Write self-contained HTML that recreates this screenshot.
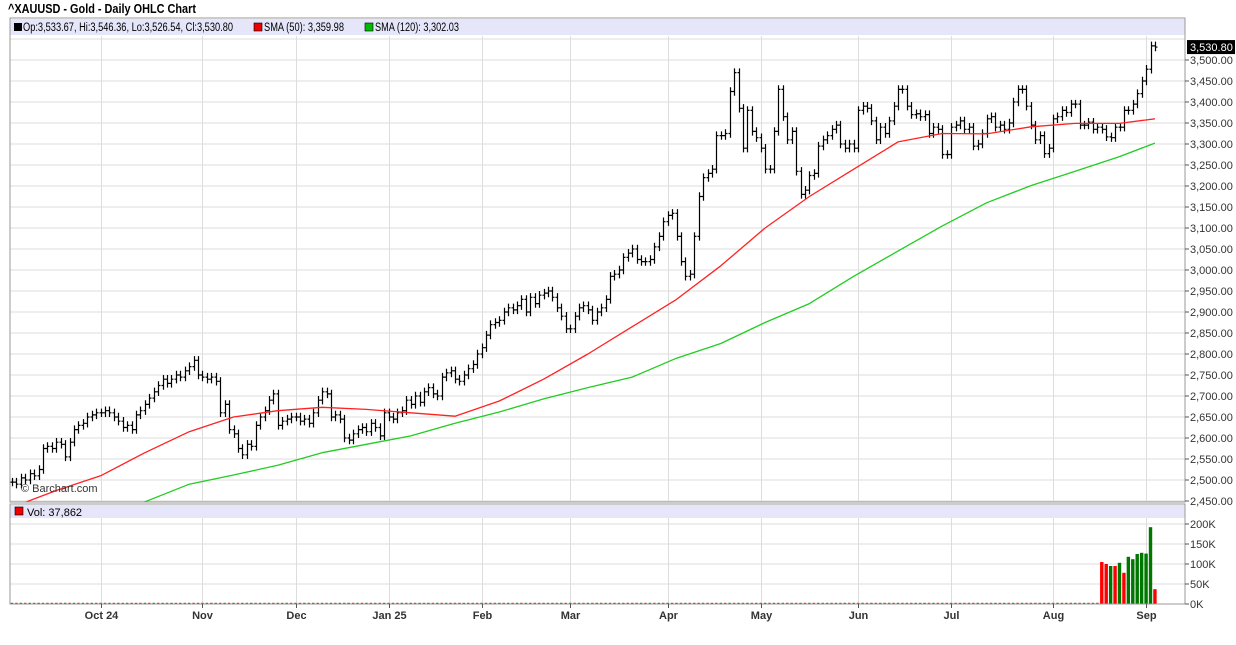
<!DOCTYPE html>
<html><head><meta charset="utf-8">
<style>
html,body{margin:0;padding:0;background:#fff;}
svg{display:block;font-family:"Liberation Sans",sans-serif;}
</style></head>
<body>
<svg id="chart" width="1236" height="645" viewBox="0 0 1236 645" xmlns="http://www.w3.org/2000/svg">
<defs>
<clipPath id="pclip"><rect x="10" y="36" width="1175" height="466"/></clipPath>
<clipPath id="vclip"><rect x="10" y="519" width="1175" height="85"/></clipPath>
</defs>
<text x="8" y="13" font-size="13" font-weight="bold" fill="#000" textLength="188" lengthAdjust="spacingAndGlyphs">^XAUUSD - Gold - Daily OHLC Chart</text>
<g id="grid"></g>
<rect x="10" y="19" width="1175" height="16" fill="#e6e6fa"/>
<rect x="10" y="505" width="1175" height="13" fill="#e6e6fa"/>
<g font-size="11.5">
<rect x="14" y="23" width="8" height="8" fill="#000"/>
<text x="23" y="31" textLength="210" lengthAdjust="spacingAndGlyphs">Op:3,533.67, Hi:3,546.36, Lo:3,526.54, Cl:3,530.80</text>
<rect x="254" y="23" width="8" height="8" fill="#e00" stroke="#000" stroke-width="0.6"/>
<text x="264" y="31" textLength="80" lengthAdjust="spacingAndGlyphs">SMA (50): 3,359.98</text>
<rect x="365" y="23" width="8" height="8" fill="#0b0" stroke="#000" stroke-width="0.6"/>
<text x="375" y="31" textLength="84" lengthAdjust="spacingAndGlyphs">SMA (120): 3,302.03</text>
</g>
<g font-size="11">
<rect x="15" y="507" width="8" height="8" fill="#e00" stroke="#000" stroke-width="0.6"/>
<text x="27" y="516">Vol: 37,862</text>
</g>
<g id="series"></g>
<text x="21" y="492" font-size="11" fill="#333">© Barchart.com</text>
<rect x="10" y="18" width="1175" height="484" fill="none" stroke="#999" stroke-width="1"/>
<rect x="10" y="504" width="1175" height="100" fill="none" stroke="#999" stroke-width="1"/>
<g id="axes"></g>
</svg>
<script>
const closes = [
2495,2490,2505,2500,2515,2510,2525,2575,2580,2575,2590,2585,2555,2590,2620,2630,2635,2650,2655,2660,
2660,2665,2660,2650,2640,2625,2630,2620,2655,2665,2680,2695,2710,2725,2740,2730,2740,2750,2745,2760,2770,2785,2750,
2745,2740,2745,2735,2660,2680,2620,2610,2575,2560,2585,2580,2630,2650,2665,2690,2705,2630,2640,2645,2650,
2650,2640,2645,2635,2660,2690,2710,2705,2650,2655,2645,2600,2595,2610,2620,2625,2615,2635,2625,2605,
2660,2650,2645,2660,2665,2690,2680,2700,2685,2710,2720,2705,2700,2745,2755,2760,2740,2735,2750,2765,2775,2800,
2815,2845,2870,2875,2880,2900,2910,2905,2915,2930,2900,2935,2920,2940,2945,2950,2935,2910,2890,2860,
2860,2890,2910,2915,2905,2880,2900,2910,2930,2985,2990,3000,3030,3040,3050,3025,3020,3020,3025,3055,3080,
3115,3130,3135,3080,3020,2985,2990,3080,3175,3220,3230,3240,3320,3320,3325,3425,3470,3385,3290,3380,3330,
3315,3290,3240,3240,3330,3430,3365,3310,3330,3235,3180,3190,3225,3230,3295,3310,3320,3335,3345,3300,3290,
3300,3290,3380,3390,3385,3355,3310,3340,3325,3355,3390,3430,3430,3390,3370,3372,3365,3370,3325,3340,3335,
3275,3275,3340,3345,3355,3335,3340,3295,3300,3325,3360,3365,3340,3345,3335,3350,3400,3430,3430,3390,3345,3310,3320,
3277,3290,3360,3365,3380,3375,3395,3395,3345,3345,3352,3335,3340,3335,3317,3315,3340,3340,3380,3380,3395,
3420,3450,3478,3533.67,3530.80];
const smaIdx = [0,10,20,30,40,50,60,70,80,90,100,110,120,130,140,150,160,170,180,190,200,210,220,230,240,250,258];
const sma50 = [2435,2475,2510,2565,2615,2650,2665,2673,2668,2660,2652,2688,2740,2800,2865,2930,3010,3100,3175,3240,3305,3325,3324,3341,3349,3349,3359.98];
const sma120 = [2380,2405,2425,2448,2490,2512,2535,2565,2585,2605,2635,2662,2693,2720,2745,2790,2825,2875,2920,2985,3045,3105,3160,3201,3235,3270,3302.03];
const volTail = [105,100,95,95,103,78,118,112,125,128,126,192,37];
const volTailUp = [0,0,1,0,1,0,1,1,1,1,1,1,0];
const priceTicks = [2450,2500,2550,2600,2650,2700,2750,2800,2850,2900,2950,3000,3050,3100,3150,3200,3250,3300,3350,3400,3450,3500,3550];
const volTicks = [0,50,100,150,200];
const monthLabels = ["Oct 24","Nov","Dec","Jan 25","Feb","Mar","Apr","May","Jun","Jul","Aug","Sep"];
const monthIdx = [20,43,64,85,106,126,148,169,191,212,235,256];

const NS="http://www.w3.org/2000/svg";
const N = closes.length;
const volumes = [];
for(let i=0;i<N-volTail.length;i++) volumes.push(3);
volTail.forEach(v=>volumes.push(v));
const xOf = i => 12 + i*4.43;
const yP = p => 60 + (3500-p)*0.42;
const yV = v => 604 - v*0.4;
function mk(tag, attrs, parent){const e=document.createElementNS(NS,tag);for(const k in attrs)e.setAttribute(k,attrs[k]);parent.appendChild(e);return e;}
const grid=document.getElementById('grid'), series=document.getElementById('series'), axes=document.getElementById('axes');

priceTicks.forEach(p=>{
  const y=yP(p);
  if(y>36 && y<=502){
    const l=mk('line',{x1:10,x2:1185,y1:y,y2:y,stroke:'#ddd','stroke-width':1},grid);
    
    
  }
  if(p<=3500){
    mk('line',{x1:1185,x2:1189,y1:y,y2:y,stroke:'#555'},axes);
    const t=mk('text',{x:1190,y:y+4,'font-size':11,fill:'#333'},axes);
    t.textContent=p.toLocaleString('en-US',{minimumFractionDigits:2});
    
    
  }
});
volTicks.forEach(v=>{
  const y=yV(v);
  const l=mk('line',{x1:10,x2:1185,y1:y,y2:y,stroke:'#ddd'},grid);
  
  
  mk('line',{x1:1185,x2:1189,y1:y,y2:y,stroke:'#555'},axes);
  const t=mk('text',{x:1190,y:y+4,'font-size':11,fill:'#333'},axes);
  t.textContent=v+'K';
  
  
});
monthIdx.forEach((i,k)=>{
  const x=Math.round(xOf(i))+0.5;
  const l1=mk('line',{x1:x,x2:x,y1:36,y2:502,stroke:'#ddd'},grid);
  
  
  mk('line',{x1:x,x2:x,y1:518,y2:604,stroke:'#ddd'},grid);
  mk('line',{x1:x,x2:x,y1:604,y2:608,stroke:'#555'},axes);
  const t=mk('text',{x:x,y:619,'font-size':11,'font-weight':'bold','text-anchor':'middle',fill:'#333'},axes);
  t.textContent=monthLabels[k];
  
  
});

const pg=mk('g',{'clip-path':'url(#pclip)'},series);
let d='';
for(let i=0;i<N;i++){
  const c=closes[i], o=i>0?closes[i-1]:c;
  const hi=Math.max(o,c)+10, lo=Math.min(o,c)-10;
  const x=Math.round(xOf(i))+0.5;
  d+=`M${x} ${yP(hi)}V${yP(lo)}M${x-2} ${yP(o)}H${x}M${x} ${yP(c)}H${x+2}`;
}
const bars=mk('path',{d:d,stroke:'#000','stroke-width':1.2,fill:'none'},pg);


function line(arr,col,name){
  const pts=smaIdx.map((i,k)=>xOf(i).toFixed(1)+','+yP(arr[k]).toFixed(1)).join(' ');
  const pl=mk('polyline',{points:pts,fill:'none',stroke:col,'stroke-width':1.3,'stroke-linejoin':'round'},pg);
  
  
}
line(sma50,'#f22','sma-50-line');
line(sma120,'#2c2','sma-120-line');

const vg=mk('g',{'clip-path':'url(#vclip)'},series);
const tailStart=N-volTail.length;
for(let i=0;i<N;i++){
  let up;
  if(i>=tailStart) up=volTailUp[i-tailStart]; else up = i%2===0;
  const big=i>=tailStart;
  const w=big?3.4:2.5;
  const r=mk('rect',{x:xOf(i)-w/2,y:yV(volumes[i]),width:w,height:volumes[i]*0.4,fill:up?'#070':'#f00'},vg);
  
  
}

const last=closes[N-1];
const ly=yP(last);
const lr=mk('rect',{x:1187,y:ly-7,width:48,height:14,fill:'#000'},axes);


const lt=mk('text',{x:1190,y:ly+4,'font-size':11,fill:'#fff'},axes);
lt.textContent=last.toLocaleString('en-US',{minimumFractionDigits:2});


</script>
</body></html>
